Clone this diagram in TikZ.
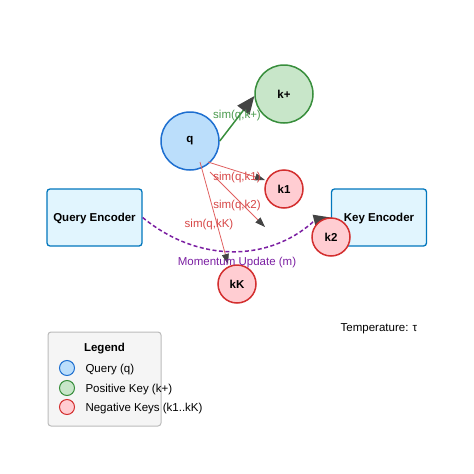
\documentclass[tikz,border=0pt]{standalone}
\usepackage{fontspec}
\setmainfont{Liberation Sans}
\usetikzlibrary{arrows.meta,calc}
\definecolor{qfill}{HTML}{BBDEFB}
\definecolor{qdraw}{HTML}{1E6FD0}
\definecolor{pfill}{HTML}{C8E6C9}
\definecolor{pdraw}{HTML}{388E3C}
\definecolor{nfill}{HTML}{FFCDD2}
\definecolor{ndraw}{HTML}{D32F2F}
\definecolor{efill}{HTML}{E1F5FE}
\definecolor{edraw}{HTML}{0277BD}
\definecolor{redline}{HTML}{E06060}
\definecolor{redtext}{HTML}{D64545}
\definecolor{greentext}{HTML}{4A9A4E}
\definecolor{purp}{HTML}{7B1FA2}
\definecolor{headc}{HTML}{444444}
\definecolor{legfill}{HTML}{F5F5F5}
\definecolor{legdraw}{HTML}{BBBBBB}
\tikzset{
  txt/.style={font=\fontsize{11.5}{13}\selectfont,yshift=-2pt},
  btxt/.style={font=\fontsize{11.5}{13}\selectfont\bfseries},
  bigc/.style={circle,draw,line width=1.5pt,minimum size=58pt,inner sep=0pt,btxt},
  smallc/.style={circle,draw,line width=1.5pt,minimum size=38pt,inner sep=0pt,btxt},
  encbox/.style={draw=edraw,fill=efill,line width=1.3pt,rounded corners=3pt,minimum width=95pt,minimum height=57pt,font=\fontsize{11.5}{13}\selectfont\bfseries,text depth=0pt},
  bighead/.style={-{Triangle[length=18pt,width=15pt,color=headc]}},
  archead/.style={-{Triangle[length=17pt,width=14pt,color=headc]}},
  smallhead/.style={-{Triangle[length=10pt,width=7pt,color=headc]}},
  legc/.style={circle,draw,line width=1pt,minimum size=15pt,inner sep=0pt},
}
\begin{document}
\begin{tikzpicture}[x=1pt,y=-1pt]
\useasboundingbox (0,0) rectangle (474,474);
% encoders
\node[encbox] (qe) at (94.5,217.5) {Query Encoder};
\node[encbox] (ke) at (379,217.5) {Key Encoder};
% momentum arc
\coordinate (arcend) at (313,222);
\draw[purp,line width=1.5pt,dash pattern=on 4pt off 2.5pt,archead]
  (qe.east) .. controls (198,263) and (268,262) .. (arcend) -- (ke.west);
% circles
\node[bigc,draw=qdraw,fill=qfill] (q) at (190,141) {q};
\node[bigc,draw=pdraw,fill=pfill] (kp) at (284,94) {k+};
% arrows from q
\coordinate (k2tip) at (265,227);
\draw[pdraw,line width=1.5pt,bighead] (q.east) -- (kp.184);
\draw[redline,line width=0.8pt,smallhead] ($(q)+(18,21)$) -- (265,180) coordinate (k1tip);
\draw[redline,line width=0.8pt,smallhead] ($(q)+(20,31)$) -- (k2tip);
\draw[redline,line width=0.8pt,smallhead] ($(q)+(10,21)$) -- (228,264) coordinate (kKtip);
% negative keys
\node[smallc,draw=ndraw,fill=nfill] (k1) at (284,189) {k1};
\node[smallc,draw=ndraw,fill=nfill] (k2) at (331,237) {k2};
\node[smallc,draw=ndraw,fill=nfill] (kK) at (237,284) {kK};
% labels
\node[txt,text=greentext] (lp) at (237,114) {sim(q,k+)};
\node[txt,text=redtext] (l1) at (237,176) {sim(q,k1)};
\node[txt,text=redtext] (l2) at (237,204) {sim(q,k2)};
\node[txt,text=redtext] (lK) at (209,223) {sim(q,kK)};
\node[txt,text=purp] (lm) at (237,261) {Momentum Update (m)};
\node[txt] (temp) at (379,327) {Temperature: τ};
% legend
\node[draw=legdraw,fill=legfill,line width=1pt,rounded corners=3pt,minimum width=113pt,minimum height=94pt] (leg) at (104.5,379) {};
\node[btxt,yshift=-2pt] (legt) at (104.5,347) {Legend};
\node[legc,draw=qdraw,fill=qfill] (lc1) at (67,368) {};
\node[legc,draw=pdraw,fill=pfill] (lc2) at (67,388) {};
\node[legc,draw=ndraw,fill=nfill] (lc3) at (67,407) {};
\node[txt,anchor=west] (lt1) at (82,368) {Query (q)};
\node[txt,anchor=west] (lt2) at (82,388) {Positive Key (k+)};
\node[txt,anchor=west] (lt3) at (82,407) {Negative Keys (k1..kK)};
\end{tikzpicture}
\end{document}
